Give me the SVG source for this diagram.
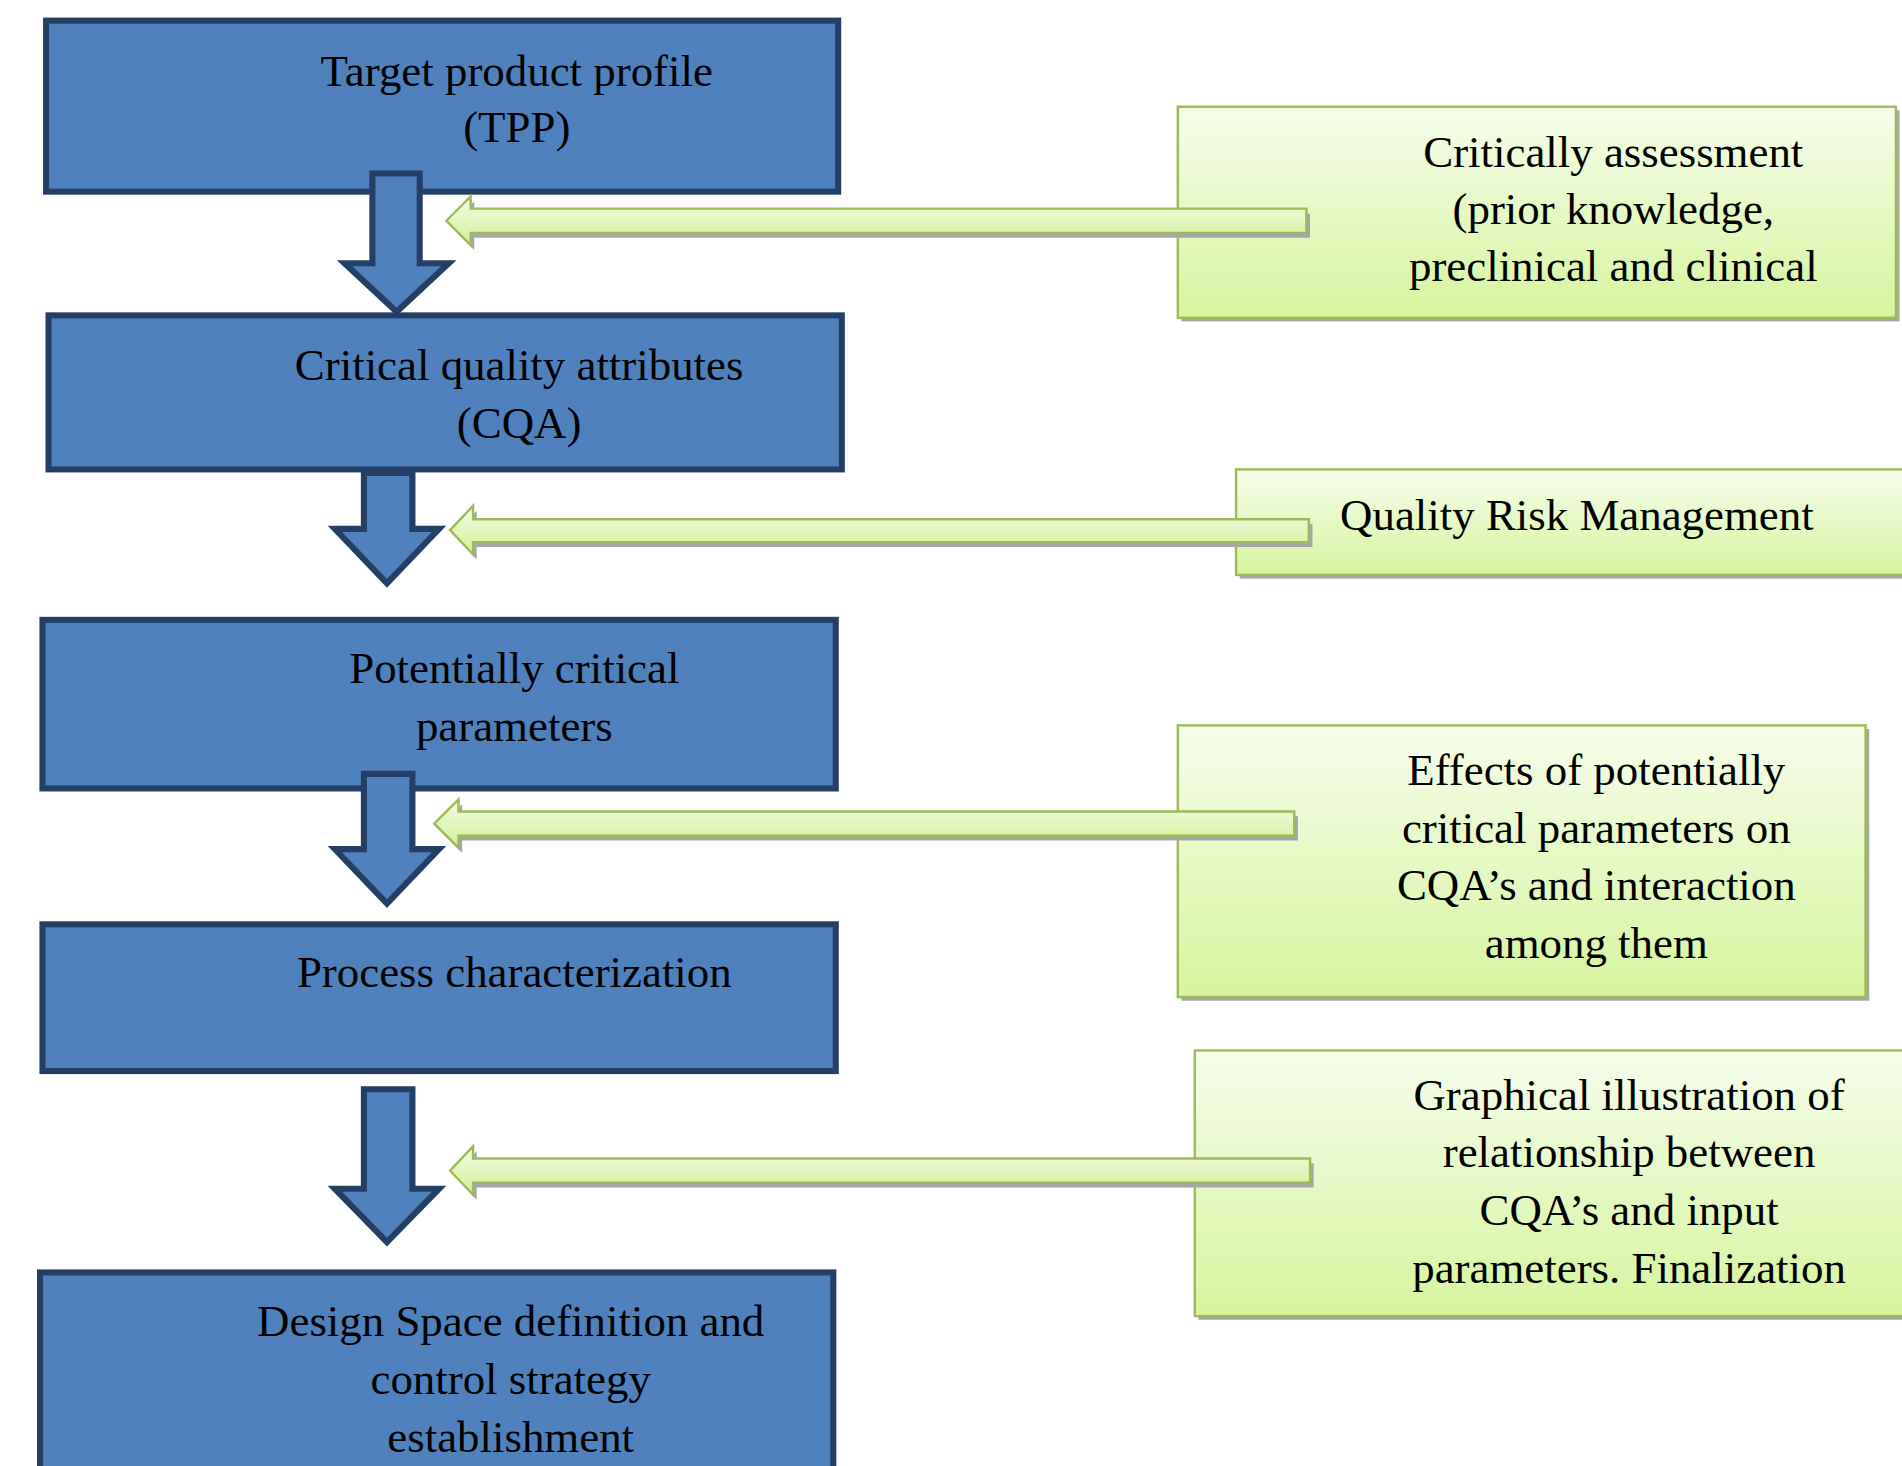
<svg xmlns="http://www.w3.org/2000/svg" width="1902" height="1466" viewBox="0 0 1902 1466">
<defs>
<linearGradient id="g" x1="0" y1="0" x2="0" y2="1"><stop offset="0" stop-color="#F6FDEB"/><stop offset="1" stop-color="#D6F59E"/></linearGradient>
<linearGradient id="ga" x1="0" y1="0" x2="0" y2="1"><stop offset="0" stop-color="#F4FCE6"/><stop offset="1" stop-color="#D2F094"/></linearGradient>
<style>
.b{fill:#4F81BD;stroke:#243F66;stroke-width:5}
.gr{fill:url(#g);stroke:#9BBB59;stroke-width:2}
.sh{fill:#A6A6A6}
.la{fill:url(#ga);stroke:#9BBB59;stroke-width:2}
.da{fill:#4F81BD;stroke:#243F66;stroke-width:5;stroke-linejoin:miter}
text{font-family:"Liberation Serif","DejaVu Serif",serif;font-size:37px;fill:#000;text-anchor:middle}
</style>
</defs>
<rect width="1902" height="1466" fill="#fff"/>
<g transform="scale(1.213)">
<g id="n1"><rect class="b" x="38" y="17" width="653" height="141"/><text x="426" y="71">Target product profile</text><text x="426" y="117">(TPP)</text></g>
<g id="n2"><rect class="b" x="40" y="260" width="654" height="127"/><text x="428" y="313">Critical quality attributes</text><text x="428" y="361">(CQA)</text></g>
<g id="n3"><rect class="b" x="35" y="511" width="654" height="139"/><text x="424" y="563">Potentially critical</text><text x="424" y="611">parameters</text></g>
<g id="n4"><rect class="b" x="35" y="762" width="654" height="121"/><text x="424" y="814">Process characterization</text></g>
<g id="n5"><rect class="b" x="33" y="1049" width="654" height="170"/><text x="421" y="1101">Design Space definition and</text><text x="421" y="1149">control strategy</text><text x="421" y="1197">establishment</text></g>
<g id="g1"><rect class="sh" x="974" y="91" width="592" height="174"/><rect class="gr" x="971" y="88" width="592" height="174"/><text x="1330" y="138">Critically assessment</text><text x="1330" y="185">(prior knowledge,</text><text x="1330" y="232">preclinical and clinical</text></g>
<g id="g2"><rect class="sh" x="1022" y="390" width="560" height="87"/><rect class="gr" x="1019" y="387" width="560" height="87"/><text x="1300" y="437">Quality Risk Management</text></g>
<g id="g3"><rect class="sh" x="974" y="601" width="567" height="224"/><rect class="gr" x="971" y="598" width="567" height="224"/><text x="1316" y="647">Effects of potentially</text><text x="1316" y="695">critical parameters on</text><text x="1316" y="742">CQA’s and interaction</text><text x="1316" y="790">among them</text></g>
<g id="g4"><rect class="sh" x="988" y="869" width="590" height="219"/><rect class="gr" x="985" y="866" width="590" height="219"/><text x="1343" y="915">Graphical illustration of</text><text x="1343" y="962">relationship between</text><text x="1343" y="1010">CQA’s and input</text><text x="1343" y="1058">parameters. Finalization</text></g>
<g id="connectors">
<path class="da" d="M307 143H346V217H370L327 257L284 217H307Z"/>
<path class="da" d="M300 390H340V436H362L319 481L276 436H300Z"/>
<path class="da" d="M300 638H340V700H362L319 745L276 700H300Z"/>
<path class="da" d="M300 898H340V980H362L319 1024L276 980H300Z"/>
<path class="sh" d="M371 186L391 166V176H1080V196H391V206Z"/>
<path class="la" d="M368 182L388 162V172H1077V192H388V202Z"/>
<path class="sh" d="M374 441L393 421V432H1082V451H393V461Z"/>
<path class="la" d="M371 437L390 417V428H1079V447H390V457Z"/>
<path class="sh" d="M361 683L381 663V673H1070V693H381V703Z"/>
<path class="la" d="M358 679L378 659V669H1067V689H378V699Z"/>
<path class="sh" d="M374 969L393 949V959H1083V979H393V989Z"/>
<path class="la" d="M371 965L390 945V955H1080V975H390V985Z"/>
</g>
</g>
</svg>
